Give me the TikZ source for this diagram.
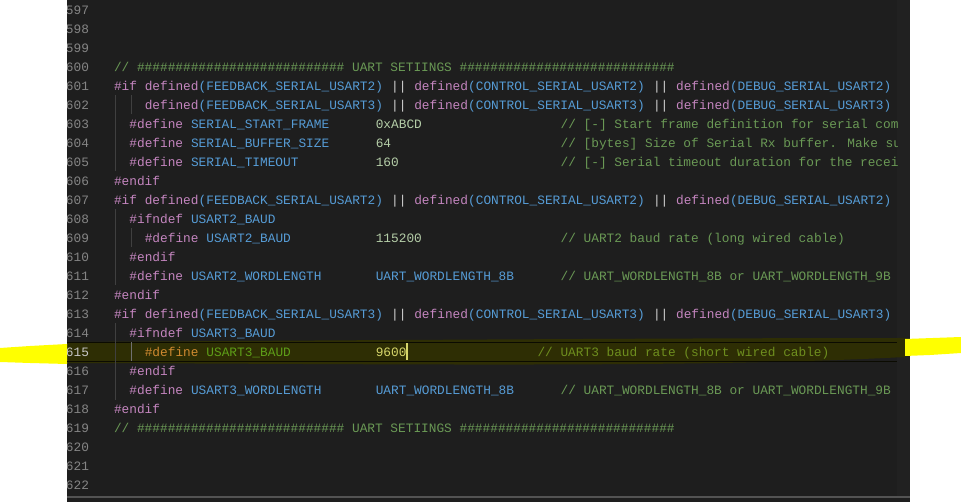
\documentclass[tikz,border=0pt]{standalone}
\usepackage{fontspec}
\newfontfamily\codefont{Liberation Mono}[Scale=1]
\definecolor{bgc}{HTML}{1E1E1E}
\definecolor{lnc}{HTML}{858585}
\definecolor{lna}{HTML}{C6C6C6}
\definecolor{cmc}{HTML}{6A9955}
\definecolor{kwc}{HTML}{C586C0}
\definecolor{mcc}{HTML}{569CD6}
\definecolor{nmc}{HTML}{B5CEA8}
\definecolor{opc}{HTML}{D4D4D4}
\definecolor{guide}{HTML}{404040}
\definecolor{guidea}{HTML}{707070}
\definecolor{olive}{HTML}{2E2E04}
\definecolor{hkw}{HTML}{D08A30}
\definecolor{hmc}{HTML}{5E9E18}
\definecolor{hnm}{HTML}{D6D66A}
\definecolor{hcm}{HTML}{6E8E1E}
\definecolor{hyel}{HTML}{FFFF00}
\newcounter{sgn}
\newcommand\cseg[4]{\stepcounter{sgn}\node[tok,text=#3] (s\arabic{sgn}) at ({114+#2*7.7},{10+(#1-597)*19+4.6}) {#4};}
\newcommand\lnum[2]{\stepcounter{sgn}\node[lnt,text=#2] (n\arabic{sgn}) at (89,{10+(#1-597)*19+4.6}) {#1};}
\newcommand\hn{\#\#\#\#\#\#\#\#\#}
\begin{document}
\begin{tikzpicture}[x=1pt,y=-1pt,
  tok/.style={anchor=base west,inner sep=0pt,outer sep=0pt,font=\codefont\fontsize{12.8}{14}\selectfont},
  lnt/.style={anchor=base east,inner sep=0pt,outer sep=0pt,font=\codefont\fontsize{12.8}{14}\selectfont}]
\useasboundingbox (0,0) rectangle (961,502);
\fill[white] (0,0) rectangle (961,502);
\fill[bgc] (67,0) rectangle (910,502);
\fill[black!87!white] (897,0) rectangle (910,497);
\draw[guide!90!white,line width=1.2pt] (67,497) -- (910,497);
% highlighter
\fill[olive] (67,342) .. controls (400,340) and (700,338) .. (905,338) -- (905,357) .. controls (700,368) and (400,364) .. (67,363) -- cycle;
\fill[hyel] (0,348) -- (30,346) -- (67,344) -- (67,364) -- (30,363) -- (0,362) -- cycle;
\fill[hyel] (905,339) -- (961,337) -- (961,353) -- (930,355) -- (905,356) -- cycle;
\draw[black!75!olive] (67,342.5) -- (897,342.5) (67,361.5) -- (897,361.5);
\begin{scope}
\clip (67,0) rectangle (897,497);
% guides
\draw[guide] (115.5,95.5) -- (115.5,171.5) (131,95.5) -- (131,114.5)
  (115.5,209.5) -- (115.5,285.5) (131,228.5) -- (131,247.5)
  (115.5,323.5) -- (115.5,399.5);
\draw[guidea] (131,342.5) -- (131,361.5);
% line numbers
\foreach \k in {597,...,614,616,617,...,622}{\lnum{\k}{lnc}}
\lnum{615}{lna}
% 600
\cseg{600}{0}{cmc}{// \hn\hn\hn{} UART SETIINGS \hn\hn\hn\#}
% 601
\cseg{601}{0}{kwc}{\#if}\cseg{601}{4}{kwc}{defined}\cseg{601}{11}{mcc}{(FEEDBACK\_SERIAL\_USART2)}
\cseg{601}{36}{opc}{||}\cseg{601}{39}{kwc}{defined}\cseg{601}{46}{mcc}{(CONTROL\_SERIAL\_USART2)}
\cseg{601}{70}{opc}{||}\cseg{601}{73}{kwc}{defined}\cseg{601}{80}{mcc}{(DEBUG\_SERIAL\_USART2)}
% 602
\cseg{602}{4}{kwc}{defined}\cseg{602}{11}{mcc}{(FEEDBACK\_SERIAL\_USART3)}
\cseg{602}{36}{opc}{||}\cseg{602}{39}{kwc}{defined}\cseg{602}{46}{mcc}{(CONTROL\_SERIAL\_USART3)}
\cseg{602}{70}{opc}{||}\cseg{602}{73}{kwc}{defined}\cseg{602}{80}{mcc}{(DEBUG\_SERIAL\_USART3)}
% 603-605
\cseg{603}{2}{kwc}{\#define}\cseg{603}{10}{mcc}{SERIAL\_START\_FRAME}\cseg{603}{34}{nmc}{0xABCD}
\cseg{603}{58}{cmc}{// [-] Start frame definition for serial commands}
\cseg{604}{2}{kwc}{\#define}\cseg{604}{10}{mcc}{SERIAL\_BUFFER\_SIZE}\cseg{604}{34}{nmc}{64}
\cseg{604}{58}{cmc}{// [bytes] Size of Serial Rx buffer. Make sure}
\cseg{605}{2}{kwc}{\#define}\cseg{605}{10}{mcc}{SERIAL\_TIMEOUT}\cseg{605}{34}{nmc}{160}
\cseg{605}{58}{cmc}{// [-] Serial timeout duration for the received}
\cseg{606}{0}{kwc}{\#endif}
% 607
\cseg{607}{0}{kwc}{\#if}\cseg{607}{4}{kwc}{defined}\cseg{607}{11}{mcc}{(FEEDBACK\_SERIAL\_USART2)}
\cseg{607}{36}{opc}{||}\cseg{607}{39}{kwc}{defined}\cseg{607}{46}{mcc}{(CONTROL\_SERIAL\_USART2)}
\cseg{607}{70}{opc}{||}\cseg{607}{73}{kwc}{defined}\cseg{607}{80}{mcc}{(DEBUG\_SERIAL\_USART2)}
\cseg{608}{2}{kwc}{\#ifndef}\cseg{608}{10}{mcc}{USART2\_BAUD}
\cseg{609}{4}{kwc}{\#define}\cseg{609}{12}{mcc}{USART2\_BAUD}\cseg{609}{34}{nmc}{115200}
\cseg{609}{58}{cmc}{// UART2 baud rate (long wired cable)}
\cseg{610}{2}{kwc}{\#endif}
\cseg{611}{2}{kwc}{\#define}\cseg{611}{10}{mcc}{USART2\_WORDLENGTH}\cseg{611}{34}{mcc}{UART\_WORDLENGTH\_8B}
\cseg{611}{58}{cmc}{// UART\_WORDLENGTH\_8B or UART\_WORDLENGTH\_9B}
\cseg{612}{0}{kwc}{\#endif}
% 613
\cseg{613}{0}{kwc}{\#if}\cseg{613}{4}{kwc}{defined}\cseg{613}{11}{mcc}{(FEEDBACK\_SERIAL\_USART3)}
\cseg{613}{36}{opc}{||}\cseg{613}{39}{kwc}{defined}\cseg{613}{46}{mcc}{(CONTROL\_SERIAL\_USART3)}
\cseg{613}{70}{opc}{||}\cseg{613}{73}{kwc}{defined}\cseg{613}{80}{mcc}{(DEBUG\_SERIAL\_USART3)}
\cseg{614}{2}{kwc}{\#ifndef}\cseg{614}{10}{mcc}{USART3\_BAUD}
\cseg{615}{4}{hkw}{\#define}\cseg{615}{12}{hmc}{USART3\_BAUD}\cseg{615}{34}{hnm}{9600}
\cseg{615}{55}{hcm}{// UART3 baud rate (short wired cable)}
\cseg{616}{2}{kwc}{\#endif}
\cseg{617}{2}{kwc}{\#define}\cseg{617}{10}{mcc}{USART3\_WORDLENGTH}\cseg{617}{34}{mcc}{UART\_WORDLENGTH\_8B}
\cseg{617}{58}{cmc}{// UART\_WORDLENGTH\_8B or UART\_WORDLENGTH\_9B}
\cseg{618}{0}{kwc}{\#endif}
\cseg{619}{0}{cmc}{// \hn\hn\hn{} UART SETIINGS \hn\hn\hn\#}
\draw[hnm,line width=1.5pt] (406.8,343.5) -- (406.8,360.5);
\end{scope}
\end{tikzpicture}
\end{document}
